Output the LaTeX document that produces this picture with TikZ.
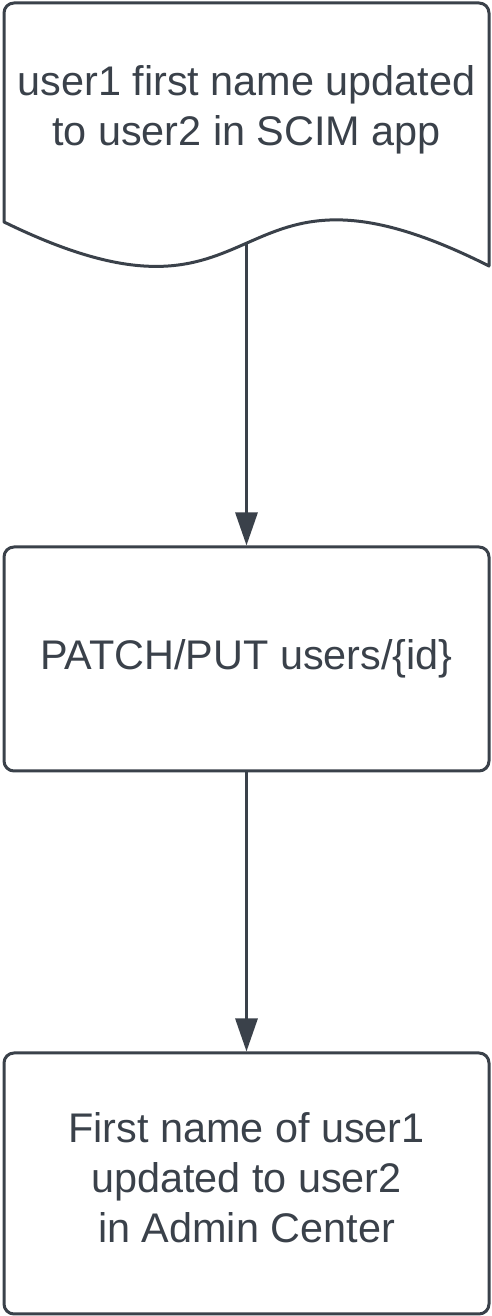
\documentclass[tikz,border=0pt]{standalone}
\usepackage{fontspec}
\setmainfont{Liberation Sans}
\usetikzlibrary{arrows.meta}
\definecolor{ink}{HTML}{3A414A}
\begin{document}
\begin{tikzpicture}[x=1pt,y=1pt,
  line/.style={draw=ink,line width=3pt},
  txt/.style={text=ink,align=center,font=\fontsize{41.4}{50}\selectfont,inner sep=0pt},
  box/.style={line,rounded corners=10pt,minimum width=485pt,inner sep=0pt},
  conn/.style={line,-{Triangle[length=33pt,width=22pt]}}]
\useasboundingbox (0,0) rectangle (491,1316);
% document shape
\draw[line,line join=round] (4,1094) -- (4,1303) arc[start angle=180,end angle=90,radius=10]
  -- (479,1313) arc[start angle=90,end angle=0,radius=10]
  -- (489,1050) .. controls (215,1188) and (280,959) .. (4,1094) -- cycle;
\coordinate (docb) at (246.5,1073);
\node[txt] (doc) at (246.5,1206) {user1 first name updated\\to user2 in SCIM app};
% process boxes
\node[box,minimum height=224pt] (patch) at (246.5,657) {};
\node[txt] (patchtext) at (patch.center) {PATCH/PUT users/\{id\}};
\node[box,minimum height=261pt] (admin) at (246.5,132.5) {};
\node[txt] (admintext) at ([yshift=5.5pt]admin.center) {First name of user1\\updated to user2\\in Admin Center};
% connectors
\draw[conn] (docb) -- (patch.north);
\draw[conn] (patch.south) -- (admin.north);
\end{tikzpicture}
\end{document}
